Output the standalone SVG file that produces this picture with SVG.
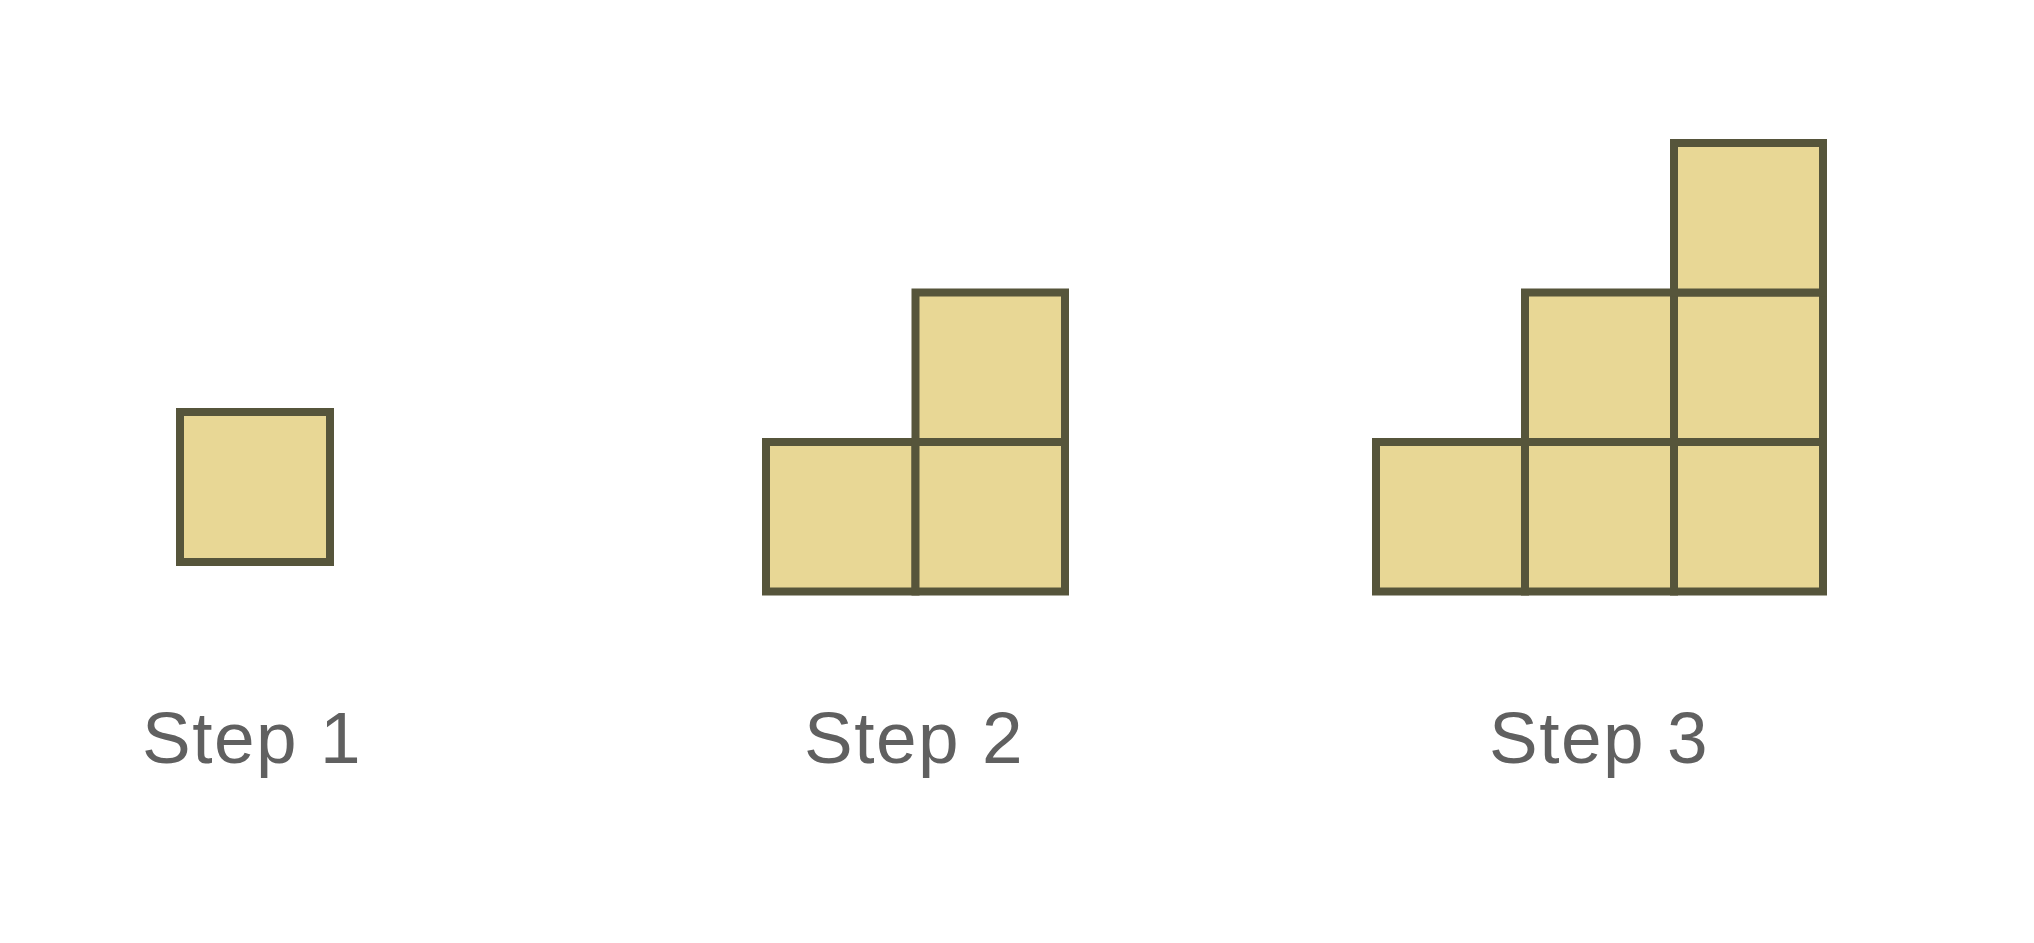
<svg xmlns="http://www.w3.org/2000/svg" width="2034" height="943" viewBox="0 0 2034 943">
<style>
.sq{fill:#E8D795;stroke:#56553B;stroke-width:8}
.lbl{font-family:"Liberation Sans",Arial,sans-serif;font-size:73px;letter-spacing:1.5px;fill:#606060;text-anchor:middle}
</style>
<rect width="2034" height="943" fill="#FFFFFF"/>
<g id="step1">
<rect class="sq" x="180" y="412" width="150" height="150"/>
<text class="lbl" x="252" y="763">Step 1</text>
</g>
<g id="step2">
<rect class="sq" x="766" y="442" width="149.5" height="149.5"/>
<rect class="sq" x="915.5" y="442" width="149.5" height="149.5"/>
<rect class="sq" x="915.5" y="292.5" width="149.5" height="149.5"/>
<text class="lbl" x="914" y="763">Step 2</text>
</g>
<g id="step3">
<rect class="sq" x="1376" y="442" width="149" height="149.5"/>
<rect class="sq" x="1525" y="442" width="149" height="149.5"/>
<rect class="sq" x="1674" y="442" width="149" height="149.5"/>
<rect class="sq" x="1525" y="292.5" width="149" height="149.5"/>
<rect class="sq" x="1674" y="292.5" width="149" height="149.5"/>
<rect class="sq" x="1674" y="143" width="149" height="149.5"/>
<text class="lbl" x="1599" y="763">Step 3</text>
</g>
<g id="connectors"/>
</svg>
